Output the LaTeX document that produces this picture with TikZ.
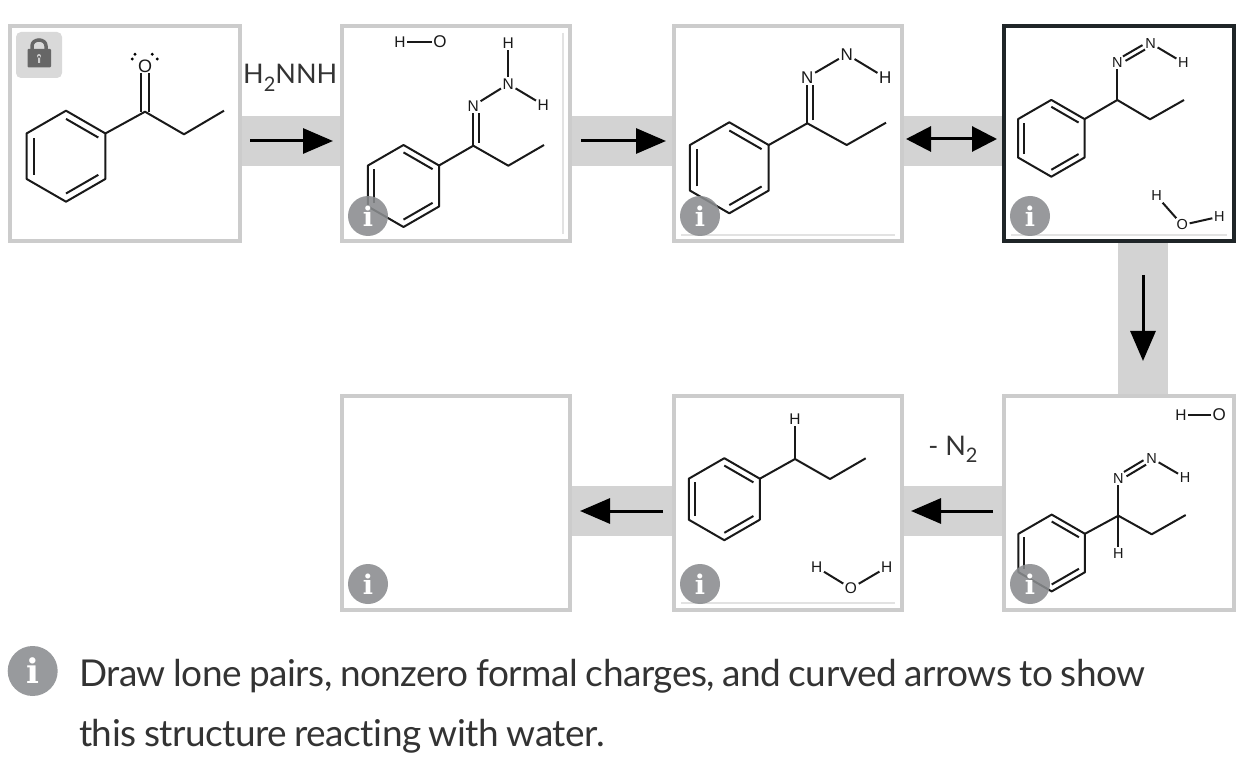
\documentclass[tikz,border=0pt]{standalone}
\usepackage{fontspec}
\usepackage{tikz}
\usetikzlibrary{arrows.meta}
\setmainfont{Lato}
\newfontfamily\promptfont{Lato}[LetterSpace=-1.42,WordSpace=0.85,Ligatures=CommonOff]
\newfontfamily\atomfont{Liberation Sans}
\newfontfamily\infofont{DejaVu Serif}
\definecolor{framegray}{HTML}{CCCCCC}
\definecolor{bandgray}{HTML}{D3D3D3}
\definecolor{darkframe}{HTML}{1F2528}
\definecolor{infogray}{HTML}{8A8C8F}
\definecolor{inkgray}{HTML}{333333}
\definecolor{faintgray}{HTML}{E2E2E2}
\tikzset{
    panel/.style={draw=framegray,fill=white,line width=4pt,minimum width=228pt,minimum height=215pt,inner sep=0pt},
    band/.style={fill=bandgray,inner sep=0pt},
    flow/.style={line width=3pt,black,-{Triangle[length=30pt,width=25pt]}},
    bond/.style={line width=2pt,black!90,line join=round},
    atom/.style={font=\atomfont\fontsize{15.5}{15.5}\selectfont,inner sep=1.5pt,text=black!90},
    atomS/.style={atom,font=\atomfont\fontsize{14.5}{14.5}\selectfont},
    atomL/.style={atom,font=\atomfont\fontsize{17}{17}\selectfont},
    info/.style={circle,fill=infogray,fill opacity=.88,text opacity=1,text=white,minimum size=40pt,inner sep=0pt,font=\infofont\bfseries\fontsize{27}{27}\selectfont},
    label/.style={font=\fontsize{27}{27}\selectfont,text=inkgray,inner sep=0pt},
    faint/.style={faintgray,line width=2pt}
}
% ring with its three inner bonds
\newcommand{\phenyl}[4]{
    \foreach \a in {30,90,...,330}
        \coordinate (#1-\a) at ({#2+#4*cos(\a)},{#3+#4*sin(\a)});
    \draw[bond] (#1-30) -- (#1-90) -- (#1-150) -- (#1-210) -- (#1-270) -- (#1-330) -- cycle;
    \foreach \a/\b in {150/210,270/330,30/90}
        \draw[bond] ({#2+.82*#4*cos(\a)},{#3+.82*#4*sin(\a)}) -- ({#2+.82*#4*cos(\b)},{#3+.82*#4*sin(\b)});
}
\newcommand{\lowtwo}{\raisebox{-.27em}{\fontsize{20}{20}\selectfont 2}}

\begin{document}
\begin{tikzpicture}[x=1pt,y=-1pt]
    \useasboundingbox (0,0) rectangle (1254,762);

    % Bands behind the arrows
    \node[band,minimum width=100pt,minimum height=50pt] (bandA) at (291,141) {};
    \node[band,minimum width=102pt,minimum height=50pt] (bandB) at (622,141) {};
    \node[band,minimum width=100pt,minimum height=50pt] (bandC) at (953,141) {};
    \node[band,minimum width=50pt,minimum height=154pt] (bandD) at (1143,319) {};
    \node[band,minimum width=100pt,minimum height=50pt] (bandE) at (953,511) {};
    \node[band,minimum width=102pt,minimum height=50pt] (bandF) at (622,511) {};

    % Panels
    \node[panel,minimum width=230pt] (panelA) at (125,133.5) {};
    \node[panel] (panelB) at (456,133.5) {};
    \node[panel] (panelC) at (788,133.5) {};
    \node[panel,minimum height=214pt] (panelF) at (456,503) {};
    \node[panel,minimum height=214pt] (panelE) at (788,503) {};
    \node[panel,minimum width=230pt,minimum height=214pt] (panelD) at (1119,503) {};
    \node[panel,minimum width=230pt,draw=darkframe] (panelG) at (1119,133.5) {};

    % Faint strips
    \draw[faint] (563,33) -- (563,234);
    \draw[faint] (681,235) -- (895,235);
    \draw[faint] (1011,235) -- (1227,235);
    \draw[faint] (681,603) -- (895,603);

    % Arrows
    \coordinate (arrA1) at (250,141);
    \coordinate (arrA2) at (333,141);
    \coordinate (arrB1) at (581,141);
    \coordinate (arrB2) at (666,141);
    \coordinate (arrC1) at (906,139);
    \coordinate (arrC2) at (997,139);
    \coordinate (arrD1) at (1143,275);
    \coordinate (arrD2) at (1143,361);
    \coordinate (arrE1) at (993,511);
    \coordinate (arrE2) at (911,511);
    \coordinate (arrF1) at (663,511);
    \coordinate (arrF2) at (580,511);
    \draw[flow] (arrA1) -- (arrA2);
    \draw[flow] (arrB1) -- (arrB2);
    \draw[flow,{Triangle[length=25pt,width=25pt]}-{Triangle[length=25pt,width=25pt]}] (arrC1) -- (arrC2);
    \draw[flow] (arrD1) -- (arrD2);
    \draw[flow] (arrE1) -- (arrE2);
    \draw[flow] (arrF1) -- (arrF2);

    % Reagent labels
    \node[label,anchor=base west] (reagent) at (243,84) {H\lowtwo NNH};
    \node[label,anchor=base] (lossN) at (953,455) {- N\lowtwo};

    % Ketone
    \phenyl{ket}{66}{156.2}{45.5}
    \coordinate (ketC) at (145,111.7);
    \coordinate (ketB) at (184,134.3);
    \coordinate (ketM) at (224,110.7);
    \node[atom,font=\atomfont\fontsize{18}{18}\selectfont,inner sep=0pt] (ketO) at (145,66) {O};
    \draw[bond] (ket-330) -- (ketC) -- (ketB) -- (ketM);
    \draw[bond,transform canvas={shift={(-3.7,0)}}] (ketC) -- (ketO);
    \draw[bond,transform canvas={shift={(3.7,0)}}] (ketC) -- (ketO);
    \fill (135,54.3) circle (1.6) (132.3,59) circle (1.6) (152.3,54.3) circle (1.6) (157.3,59) circle (1.6);

    % Lock
    \node[fill=black!15,rounded corners=5pt,minimum size=46pt,inner sep=0pt] (lockBadge) at (39,55) {};
    \draw[line width=3.5pt,black!60] (32,50) -- (32,46) .. controls (32,38) and (46,38) .. (46,46) -- (46,50);
    \fill[black!60,rounded corners=1pt] (27.5,49) rectangle (51,67.5);
    \fill[black!20] (39,56) circle (2) (38,56) rectangle (40,63);

    % Hydrazone with water
    \phenyl{hyd}{403.5}{186}{41}
    \coordinate (hydC) at (473.3,145.7);
    \coordinate (hydB) at (508.3,165.7);
    \coordinate (hydM) at (544,145);
    \node[atom] (hydN) at (473.3,105.7) {N};
    \node[atom] (hydA) at (508.3,84) {N};
    \node[atom] (hydH) at (508.3,43.3) {H};
    \node[atom] (hydI) at (543.3,105) {H};
    \node[atom] (hydW) at (400,41.7) {H};
    \node[atomL] (hydO) at (440,41.7) {O};
    \draw[bond] (hyd-330) -- (hydC) -- (hydB) -- (hydM);
    \draw[bond] (hydC) -- (hydN);
    \draw[bond,transform canvas={shift={(6,0)}},shorten <=3pt] (hydC) -- (hydN);
    \draw[bond] (hydN) -- (hydA);
    \draw[bond] (hydA) -- (hydH);
    \draw[bond] (hydA) -- (hydI);
    \draw[bond] (hydW) -- (hydO);

    % Hydrazone without water
    \phenyl{hdz}{729.3}{167.8}{45.5}
    \coordinate (hdzC) at (807.3,123.3);
    \coordinate (hdzB) at (846.7,145);
    \coordinate (hdzM) at (886,122.7);
    \node[atomL] (hdzN) at (807.3,77.3) {N};
    \node[atomL] (hdzA) at (846.7,54.3) {N};
    \node[atomL] (hdzH) at (885.3,77.7) {H};
    \draw[bond] (hdz-330) -- (hdzC) -- (hdzB) -- (hdzM);
    \draw[bond] (hdzC) -- (hdzN);
    \draw[bond,transform canvas={shift={(6,0)}},shorten <=3pt] (hdzC) -- (hdzN);
    \draw[bond] (hdzN) -- (hdzA);
    \draw[bond] (hdzA) -- (hdzH);

    % Diazene with water
    \phenyl{dia}{1051.3}{138.3}{38.4}
    \coordinate (diaC) at (1117.3,100);
    \coordinate (diaB) at (1150,119.3);
    \coordinate (diaM) at (1184,100);
    \node[atomS] (diaN) at (1117.3,62.7) {N};
    \node[atomS] (diaA) at (1150.7,43.3) {N};
    \node[atomS] (diaH) at (1183.3,62.7) {H};
    \node[atomS] (diaW) at (1156.7,196) {H};
    \node[atomS] (diaO) at (1182.3,225) {O};
    \node[atomS] (diaX) at (1219.3,216.7) {H};
    \draw[bond] (dia-330) -- (diaC) -- (diaB) -- (diaM);
    \draw[bond] (diaC) -- (diaN);
    \draw[bond,transform canvas={shift={(-1.3,-2.2)}}] (diaN) -- (diaA);
    \draw[bond,transform canvas={shift={(1.3,2.2)}}] (diaN) -- (diaA);
    \draw[bond] (diaA) -- (diaH);
    \draw[bond] (diaW) -- (diaO) -- (diaX);

    % Diazene with the extra H
    \phenyl{dib}{1051.7}{553}{38.4}
    \coordinate (dibC) at (1118.3,515.7);
    \coordinate (dibB) at (1151.7,534.3);
    \coordinate (dibM) at (1185.7,515);
    \node[atomS] (dibN) at (1118.3,478.3) {N};
    \node[atomS] (dibA) at (1151.7,458.3) {N};
    \node[atomS] (dibH) at (1185,477.7) {H};
    \node[atomS] (dibI) at (1118.3,553.3) {H};
    \node[atom] (dibW) at (1181,415) {H};
    \node[atomL] (dibO) at (1219.3,415) {O};
    \draw[bond] (dib-330) -- (dibC) -- (dibB) -- (dibM);
    \draw[bond] (dibC) -- (dibN);
    \draw[bond] (dibC) -- (dibI);
    \draw[bond,transform canvas={shift={(-1.3,-2.2)}}] (dibN) -- (dibA);
    \draw[bond,transform canvas={shift={(1.3,2.2)}}] (dibN) -- (dibA);
    \draw[bond] (dibA) -- (dibH);
    \draw[bond] (dibW) -- (dibO);

    % Product with water
    \phenyl{alk}{724.3}{499.2}{41}
    \coordinate (alkC) at (795,459);
    \coordinate (alkB) at (830,479);
    \coordinate (alkM) at (865.7,458.3);
    \node[atom] (alkH) at (795,419.3) {H};
    \node[atom] (alkW) at (816.7,567.3) {H};
    \node[atom] (alkO) at (851,588.3) {O};
    \node[atom] (alkX) at (886.7,567.3) {H};
    \draw[bond] (alk-330) -- (alkC) -- (alkB) -- (alkM);
    \draw[bond] (alkC) -- (alkH);
    \draw[bond] (alkW) -- (alkO) -- (alkX);

    % Info badges
    \node[info] (infoB) at (368,216) {i};
    \node[info] (infoC) at (700,216) {i};
    \node[info] (infoG) at (1030,216) {i};
    \node[info] (infoD) at (1030,584) {i};
    \node[info] (infoE) at (700,584) {i};
    \node[info] (infoF) at (368,584) {i};
    \node[info,minimum size=50pt,font=\infofont\bfseries\fontsize{34}{34}\selectfont] (infoPrompt) at (32.7,671) {i};

    % Prompt
    \node[anchor=north west,align=left,inner sep=0pt,text=inkgray,font=\promptfont\fontsize{37}{60}\selectfont] (prompt) at (79,659) {Draw lone pairs, nonzero formal charges, and curved arrows to show\\this structure reacting with water.};
\end{tikzpicture}
\end{document}
